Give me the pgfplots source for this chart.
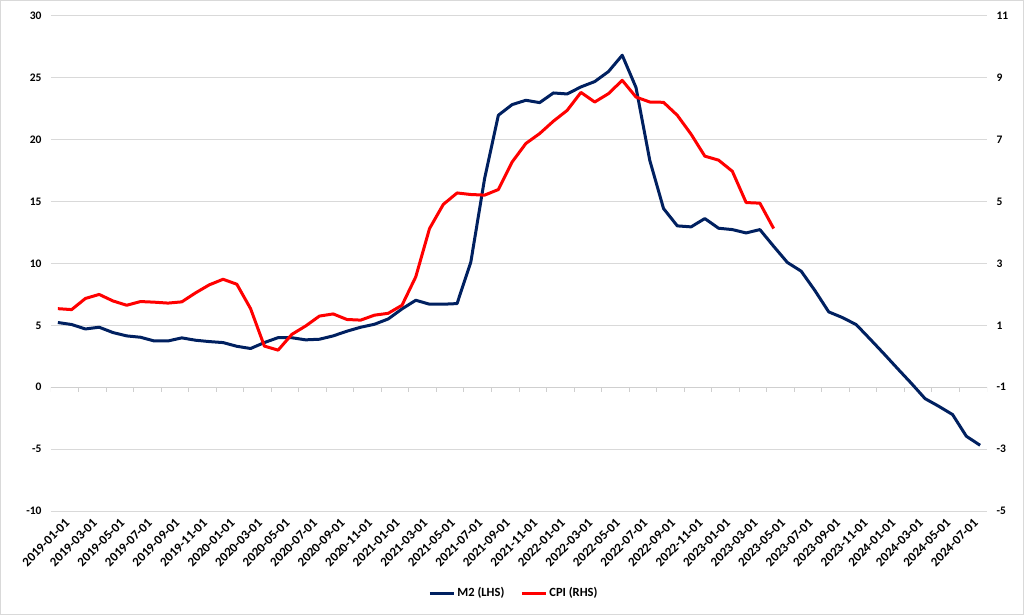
\documentclass[border=0pt]{standalone}
\usepackage{pgfplots}
\pgfplotsset{compat=1.18}
\usepackage{fontspec}
\setmainfont{Carlito}
\definecolor{navy}{HTML}{002060}
\definecolor{cpired}{HTML}{FF0000}
\definecolor{gridc}{HTML}{D9D9D9}
\definecolor{zeroc}{HTML}{CFCFCF}
\begin{document}
\begin{tikzpicture}
\pgfplotsset{
  base/.style={
    at={(0pt,0pt)}, anchor=south west,
    scale only axis, width=936pt, height=495pt,
    xmin=-0.5, xmax=67.5,
    axis line style={draw=none},
    major tick length=0pt,
    tick label style={font=\bfseries\fontsize{11.5}{13}\selectfont, text=black},
    /pgf/number format/assume math mode=true,
  }
}
\begin{axis}[base,
  ymin=-10, ymax=30, ytick={-10,-5,...,30},
  ymajorgrids, grid style={gridc, line width=1pt},
  yticklabel style={xshift=-6pt},
  xtick={0,2,...,66},
  xticklabels={2019-01-01,2019-03-01,2019-05-01,2019-07-01,2019-09-01,2019-11-01,
    2020-01-01,2020-03-01,2020-05-01,2020-07-01,2020-09-01,2020-11-01,
    2021-01-01,2021-03-01,2021-05-01,2021-07-01,2021-09-01,2021-11-01,
    2022-01-01,2022-03-01,2022-05-01,2022-07-01,2022-09-01,2022-11-01,
    2023-01-01,2023-03-01,2023-05-01,2023-07-01,2023-09-01,2023-11-01,
    2024-01-01,2024-03-01,2024-05-01,2024-07-01},
  xticklabel style={rotate=45, anchor=north east, yshift=-6pt, xshift=3pt,
    font=\bfseries\fontsize{13}{15}\selectfont},
]
\draw[zeroc, line width=1pt] (axis cs:-0.5,0) -- (axis cs:67.5,0);
\pgfplotsinvokeforeach{-0.5,1.5,...,67.5}{\draw[zeroc, line width=1pt] (axis cs:#1,0) -- ++(0pt,-5pt);}
\addplot[navy, line width=3pt, line join=round] table {
x y
0 5.23
1 5.07
2 4.71
3 4.85
4 4.42
5 4.15
6 4.04
7 3.74
8 3.74
9 3.99
10 3.80
11 3.69
12 3.61
13 3.31
14 3.13
15 3.61
16 4.01
17 4.00
18 3.83
19 3.88
20 4.15
21 4.53
22 4.85
23 5.09
24 5.52
25 6.33
26 7.03
27 6.71
28 6.71
29 6.76
30 10.12
31 16.86
32 21.98
33 22.84
34 23.19
35 23.00
36 23.78
37 23.70
38 24.27
39 24.70
40 25.51
41 26.83
42 24.22
43 18.34
44 14.44
45 13.04
46 12.96
47 13.63
48 12.85
49 12.74
50 12.47
51 12.74
52 11.39
53 10.08
54 9.38
55 7.81
56 6.09
57 5.63
58 5.06
59 3.90
60 2.72
61 1.51
62 0.32
63 -0.92
64 -1.54
65 -2.21
66 -3.96
67 -4.69
};
\end{axis}
\begin{axis}[base,
  ymin=-5, ymax=11, ytick={-5,-3,...,11},
  axis y line*=right, axis x line=none,
  yticklabel style={anchor=west, xshift=6pt},
  legend style={at={(0.4946,-0.1657)}, anchor=center, draw=none, fill=none,
    legend columns=2, font=\bfseries\fontsize{12.5}{14}\selectfont,
    /tikz/every even column/.append style={column sep=14pt},
    legend cell align=left},
  legend image code/.code={\draw[#1] (0pt,0pt) -- (24pt,0pt);},
]
\addlegendimage{navy, line width=3pt}
\addlegendentry{M2 (LHS)}
\addplot[cpired, line width=3pt, line join=round] table {
x y
0 1.54
1 1.51
2 1.87
3 2.00
4 1.79
5 1.65
6 1.77
7 1.75
8 1.72
9 1.76
10 2.05
11 2.31
12 2.49
13 2.33
14 1.54
15 0.33
16 0.20
17 0.71
18 0.98
19 1.30
20 1.37
21 1.19
22 1.17
23 1.33
24 1.39
25 1.65
26 2.57
27 4.13
28 4.91
29 5.28
30 5.23
31 5.21
32 5.39
33 6.28
34 6.88
35 7.20
36 7.60
37 7.95
38 8.53
39 8.22
40 8.49
41 8.92
42 8.38
43 8.22
44 8.21
45 7.79
46 7.18
47 6.47
48 6.34
49 5.98
50 4.97
51 4.95
52 4.13
};
\addlegendentry{CPI (RHS)}
\end{axis}
\pgfresetboundingbox
\path[use as bounding box] (-51pt,-104pt) rectangle (973pt,511pt);
\draw[gray!30, line width=1pt] (-50.5pt,-103.5pt) rectangle (972.5pt,510.5pt);
\end{tikzpicture}
\end{document}
